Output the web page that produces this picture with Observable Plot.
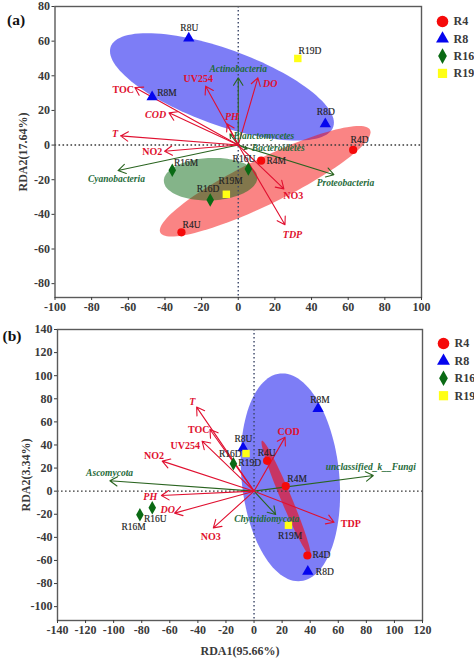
<!DOCTYPE html>
<html>
<head>
<meta charset="utf-8">
<script src="https://cdn.jsdelivr.net/npm/d3@7"></script>
<script src="https://cdn.jsdelivr.net/npm/@observablehq/plot@0.6"></script>
<style>
html,body{margin:0;padding:0;background:#fff;overflow:hidden}
#root{position:relative;width:474px;height:661px;overflow:hidden}
#root>svg{position:absolute;left:0;overflow:visible}
</style>
</head>
<body>
<div id="root"></div>
<script>
// groups
const groups = ["R4","R8","R16","R19"];
const groupColors = ["#f50a0a","#0505ee","#0a6a14","#ffff14"];

// panel (a): samples
const aSampleNames = ["R4D","R4M","R4U","R8U","R8M","R8D","R16M","R16U","R16D","R19D","R19M"];
const aSampleGroup = ["R4","R4","R4","R8","R8","R8","R16","R16","R16","R19","R19"];
const aSampleX = [62.7,12.5,-31,-27,-47,47.5,-36,5.5,-15.3,32.5,-6.5];
const aSampleY = [-2.8,-9,-50.4,61.7,27.8,12.2,-14.5,-13.8,-31.7,50,-28.4];
const aSampleLabelX = [66.2,20.7,-25.5,-26.7,-38.9,47.8,-28.5,3.1,-16.5,39.1,-4.2];
const aSampleLabelY = [2.8,-9,-46.3,67.7,29.9,19,-10.3,-8,-25.1,54.4,-20.5];

// panel (a): environmental factors
const aEnvNames = ["TOC","UV254","DO","COD","PH","T","NO2","NO3","TDP"];
const aEnvItalic = [false,false,true,true,true,true,false,false,true];
const aEnvX = [-56.4,-17.8,10.7,-37.8,-6,-64.2,-40.2,24.9,25.5];
const aEnvY = [33.2,34,38.8,18.6,12.2,5.3,-3.6,-25.3,-46];
const aEnvLabelX = [-62.7,-21.8,17.5,-45.1,-3.5,-67.3,-46.9,30,29.6];
const aEnvLabelY = [31.7,38.2,35.1,17.4,16.3,6.6,-4.1,-29.2,-51.7];

// panel (a): taxa
const aTaxaNames = ["Actinobacteria","Planctomycetes","Bacteroidetes","Proteobacteria","Cyanobacteria"];
const aTaxaX = [0,-4.5,4.9,52.2,-65.6];
const aTaxaY = [38.8,6.4,-2.2,-17.1,-14.7];
const aTaxaLabelX = [0,14,21.8,58.5,-66.5];
const aTaxaLabelY = [44,5.3,-1.6,-22,-19.3];

// panel (a): group ellipses: centre, half extents, correlation
const aEllipseGroup = ["R8","R4","R16"];
const aEllipseCx = [-8.9,14.7,-15.1];
const aEllipseCy = [33.6,-20.9,-19.7];
const aEllipseRx = [61.1,57.5,25.5];
const aEllipseRy = [31,31.9,12.3];
const aEllipseRho = [-0.667,0.889,0.07];

// panel (b): samples
const bSampleNames = ["R4U","R4M","R4D","R8M","R8U","R8D","R16D","R16U","R16M","R19D","R19M"];
const bSampleGroup = ["R4","R4","R4","R8","R8","R8","R16","R16","R16","R19","R19"];
const bSampleX = [9.3,22.6,38,45.6,-7.8,38.3,-14.7,-72.5,-81.3,-5.7,24.5];
const bSampleY = [26.3,4.3,-55.7,71.3,37.3,-69.6,23.7,-14.4,-20.5,32.6,-29.5];
const bSampleLabelX = [9,30.7,48,47,-7.6,50.4,-16.9,-70.3,-85.8,-3.1,25.7];
const bSampleLabelY = [33.5,10.7,-55.2,78.8,45.3,-69.6,32.3,-23.7,-30.6,24,-39];

// panel (b): environmental factors
const bEnvNames = ["T","TOC","UV254","NO2","PH","DO","NO3","TDP","COD"];
const bEnvItalic = [true,false,false,false,true,true,false,false,false];
const bEnvX = [-40.9,-31.4,-37,-65.4,-66,-56.6,-29,57,22.1];
const bEnvY = [72.8,53.4,43.3,26,-3.8,-19,-31.8,-26.9,46.8];
const bEnvLabelX = [-44,-39.4,-49,-71.3,-73.9,-61.5,-30.9,68.9,24.7];
const bEnvLabelY = [77.4,53.1,39,30.6,-4.9,-15.9,-39.3,-28.6,51.7];

// panel (b): taxa
const bTaxaNames = ["Ascomycota","unclassified_k__Fungi","Chytridiomycota"];
const bTaxaX = [-102.7,85,15.4];
const bTaxaY = [9,13.6,-20.2];
const bTaxaLabelX = [-102.9,83.2,9];
const bTaxaLabelY = [16.2,20.8,-24];

// panel (b): group ellipses
const bEllipseGroup = ["R8","R4"];
const bEllipseCx = [25.9,22.8];
const bEllipseCy = [12,-6];
const bEllipseRx = [35.4,17.5];
const bEllipseRy = [90,49.7];
const bEllipseRho = [-0.16,-0.972];

// tick labels
const aXTicks = [-100,-80,-60,-40,-20,0,20,40,60,80,100];
const aYTicks = [-80,-60,-40,-20,0,20,40,60,80];
const bXTicks = [-140,-120,-100,-80,-60,-40,-20,0,20,40,60,80,100,120];
const bYTicks = [-100,-80,-60,-40,-20,0,20,40,60,80,100,120,140];

const colorOf = g => groupColors[groups.indexOf(g)];
const tallDiamond = {draw(c, size){
  const h = Math.sqrt(size) * 0.5, w = h * 0.56;
  c.moveTo(0,-h); c.lineTo(w,0); c.lineTo(0,h); c.lineTo(-w,0); c.closePath();
}};
const symbols = {R4:"circle", R8:"triangle", R16:tallDiamond, R19:"square"};
const sizes = {R4:4.1, R8:4.2, R16:7.6, R19:4.2};
const legendSizes = {R4:5.8, R8:4.8, R16:8.8, R19:5.2};
const ink = "#3a3a3a", envColor = "#e0102e", taxaColor = "#1f6b3a", envArrow = "#e01030", taxaArrow = "#2a6420";
const serif = "'Liberation Serif','Times New Roman',serif";

function ellipseMarks(names, cx, cy, rx, ry, rho, opacity){
  return names.map((g,i) => {
    const pts = d3.range(0,121).map(k => {
      const t = k/120*2*Math.PI;
      return {x: cx[i]+rx[i]*Math.cos(t),
              y: cy[i]+ry[i]*(rho[i]*Math.cos(t)+Math.sqrt(1-rho[i]*rho[i])*Math.sin(t))};
    });
    return Plot.line(pts,{x:"x",y:"y",fill:colorOf(g),fillOpacity:opacity[i],stroke:"none",curve:"linear-closed"});
  });
}
function arrows(xs, ys, color){
  return Plot.arrow(xs.map((x,i)=>({x,y:ys[i]})),{x1:()=>0,y1:()=>0,x2:"x",y2:"y",stroke:color,strokeWidth:1.1,
    headLength:12,headAngle:64,bend:0,inset:0});
}
function legendMarks(dy0, step){
  return groups.flatMap((g,i)=>[
    Plot.dot([g],{frameAnchor:"top-right",dx:21,dy:dy0+i*step,symbol:symbols[g],r:legendSizes[g],fill:colorOf(g),stroke:"none"}),
    Plot.text([g],{frameAnchor:"top-right",dx:32,dy:dy0+i*step,text:d=>d,textAnchor:"start",lineAnchor:"middle",fontSize:12,fontWeight:"bold",fill:ink,fontFamily:serif})
  ]);
}
function texts(names, xs, ys, opts){
  return Plot.text(names.map((n,i)=>({n,x:xs[i],y:ys[i]})),{x:"x",y:"y",text:"n",fontFamily:serif,...opts});
}
function dotsWithSymbols(groupList, xs, ys){
  return groups.map(g => {
    const d = groupList.map((h,i)=>({h,x:xs[i],y:ys[i]})).filter(e=>e.h===g);
    return Plot.dot(d,{x:"x",y:"y",symbol:symbols[g],r:sizes[g],fill:colorOf(g),stroke:"none"});
  });
}

function panel(cfg){
  return Plot.plot({
    width:474, height:cfg.height,
    marginLeft:cfg.ml, marginRight:cfg.mr, marginTop:cfg.mt, marginBottom:cfg.mb,
    style:{fontFamily:serif,background:"transparent",overflow:"visible"},
    x:{domain:cfg.xd,label:null},
    y:{domain:cfg.yd,label:null},
    marks:[
      ...ellipseMarks(cfg.eg,cfg.ecx,cfg.ecy,cfg.erx,cfg.ery,cfg.erho,cfg.eop),
      Plot.ruleX([0],{stroke:"#3a4668",strokeWidth:1.4,strokeDasharray:"1.6,2.4"}),
      Plot.ruleY([0],{stroke:"#3a3a3a",strokeWidth:1.4,strokeDasharray:"1.6,2.4"}),
      arrows(cfg.tx,cfg.ty,taxaArrow),
      arrows(cfg.ex,cfg.ey,envArrow),
      ...dotsWithSymbols(cfg.sg,cfg.sx,cfg.sy),
      texts(cfg.sn,cfg.slx,cfg.sly,{fontSize:9.5,fill:"#222",stroke:"#222",strokeWidth:0.15}),
      texts(cfg.en.filter((_,i)=>cfg.ei[i]),cfg.elx.filter((_,i)=>cfg.ei[i]),cfg.ely.filter((_,i)=>cfg.ei[i]),{fontSize:10,fill:envColor,fontWeight:"bold",fontStyle:"italic"}),
      texts(cfg.en.filter((_,i)=>!cfg.ei[i]),cfg.elx.filter((_,i)=>!cfg.ei[i]),cfg.ely.filter((_,i)=>!cfg.ei[i]),{fontSize:10,fill:envColor,fontWeight:"bold"}),
      texts(cfg.tn,cfg.tlx,cfg.tly,{fontSize:9.5,fill:taxaColor,fontWeight:"bold",fontStyle:"italic"}),
      Plot.frame({stroke:"#5a5a5a",strokeWidth:1.4}),
      Plot.axisX({ticks:cfg.xt,tickFormat:d=>`${d}`,tickSize:3,tickPadding:2,fontSize:12,fontWeight:"bold",color:ink,
        label:cfg.xl,labelAnchor:"center",labelArrow:"none",labelOffset:34}),
      Plot.axisY({ticks:cfg.yt,tickFormat:d=>`${d}`,tickSize:3,tickPadding:2,fontSize:12,fontWeight:"bold",color:ink,
        label:cfg.yl,labelAnchor:"center",labelArrow:"none",labelOffset:cfg.ylo}),
      Plot.text([cfg.tag],{frameAnchor:"top-left",dx:cfg.tdx,dy:cfg.tdy,text:d=>d,fontSize:15.5,fontWeight:"bold",fill:"#111",textAnchor:"start",lineAnchor:"middle",fontFamily:serif}),
      ...legendMarks(cfg.ly0,cfg.lstep)
    ]
  });
}

const root = document.getElementById("root");
const a = panel({
  height:325, ml:54.5, mr:53, mt:6, mb:28,
  xd:[-100,100], yd:[-88,80], xt:aXTicks, yt:aYTicks, xl:null, yl:"RDA2(17.64%)", ylo:37,
  eg:aEllipseGroup, ecx:aEllipseCx, ecy:aEllipseCy, erx:aEllipseRx, ery:aEllipseRy, erho:aEllipseRho, eop:[0.52,0.5,0.5],
  tx:aTaxaX, ty:aTaxaY, ex:aEnvX, ey:aEnvY, sg:aSampleGroup, sx:aSampleX, sy:aSampleY,
  sn:aSampleNames, slx:aSampleLabelX, sly:aSampleLabelY,
  en:aEnvNames, ei:aEnvItalic, elx:aEnvLabelX, ely:aEnvLabelY,
  tn:aTaxaNames, tlx:aTaxaLabelX, tly:aTaxaLabelY,
  tag:"(a)", tdx:-48, tdy:14, ly0:15, lstep:17.3
});
a.style.top = "0px";
const b = panel({
  height:336, ml:57, mr:52, mt:4, mb:41,
  xd:[-140,120], yd:[-112,140], xt:bXTicks, yt:bYTicks, xl:"RDA1(95.66%)", yl:"RDA2(3.34%)", ylo:36,
  eg:bEllipseGroup, ecx:bEllipseCx, ecy:bEllipseCy, erx:bEllipseRx, ery:bEllipseRy, erho:bEllipseRho, eop:[0.52,0.62],
  tx:bTaxaX, ty:bTaxaY, ex:bEnvX, ey:bEnvY, sg:bSampleGroup, sx:bSampleX, sy:bSampleY,
  sn:bSampleNames, slx:bSampleLabelX, sly:bSampleLabelY,
  en:bEnvNames, ei:bEnvItalic, elx:bEnvLabelX, ely:bEnvLabelY,
  tn:bTaxaNames, tlx:bTaxaLabelX, tly:bTaxaLabelY,
  tag:"(b)", tdx:-55, tdy:7, ly0:14, lstep:17.4
});
b.style.top = "325px";
root.append(a,b);
</script>
</body>
</html>
